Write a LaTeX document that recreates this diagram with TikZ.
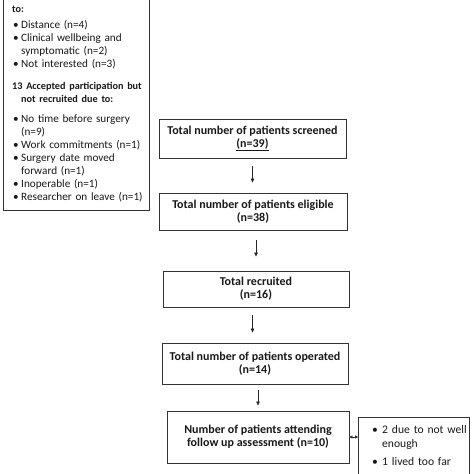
\documentclass[tikz,border=0pt]{standalone}
\usepackage{fontspec}
\setmainfont{Carlito}
\usetikzlibrary{arrows.meta,calc}
\newcommand\bitem[2][9pt]{\par\hangindent=#1\hangafter=1\noindent\makebox[#1][l]{\hspace{1pt}\textbullet}#2\par}
\begin{document}
\begin{tikzpicture}[x=1pt,y=-1pt,
  box/.style={draw=black!80,line width=0.9pt,align=center,inner sep=2pt,
    font=\fontsize{12}{13}\selectfont\bfseries,text=black!90},
  plainbox/.style={draw=black!80,line width=0.9pt,inner sep=0pt},
  listtext/.style={anchor=north west,inner sep=0pt,align=left,text=black!90,
    font=\fontsize{11.2}{13}\selectfont},
  arr/.style={-{Triangle[length=4pt,width=3.5pt]},line width=0.6pt,draw=black!85},
  darr/.style={{Triangle[length=3pt,width=3pt]}-{Triangle[length=3pt,width=3pt]},line width=0.6pt,draw=black!85}]
\useasboundingbox (0,0) rectangle (474,474);
\clip (0,0) rectangle (474,474);
\fill[white] (0,0) rectangle (474,474);

% main column
\node[box,minimum width=187pt,minimum height=39pt] (s) at (252.5,138.5)
  {Total number of patients screened\\\underline{(n=39)}};
\node[box,minimum width=188pt,minimum height=37pt] (e) at (253,211.5)
  {Total number of patients eligible\\(n=38)};
\node[box,minimum width=186pt,minimum height=36pt] (r) at (256,289)
  {Total recruited\\(n=16)};
\node[box,minimum width=186pt,minimum height=41pt] (o) at (255,363.5)
  {Total number of patients operated\\(n=14)};
\node[box,minimum width=182pt,minimum height=52pt] (f) at (258,437)
  {Number of patients attending\\follow up assessment (n=10)};

\draw[arr,shorten <=8pt,shorten >=10pt] (s.south) -- (s.south |- e.north);
\draw[arr,shorten <=10pt,shorten >=14pt] (r.north |- e.south) -- (r.north);
\draw[arr,shorten <=8pt,shorten >=10pt] (r.south -| s.south) -- (o.north -| s.south);
\draw[arr,shorten <=6pt,shorten >=5pt] (f.north |- o.south) -- (f.north);

% left box
\node[plainbox,anchor=south west,minimum width=146pt,minimum height=240pt] (L) at (3,211) {};
\node[listtext,text width=137pt] (Lt) at (12,6) {%
  {\bfseries\fontsize{10.2}{13}\selectfont to:}\par\vspace{3pt}
  \bitem{Distance (n=4)}
  \bitem{Clinical wellbeing and\newline symptomatic (n=2)}
  \bitem{Not interested (n=3)}
  \vspace{9pt}
  \hangindent=9pt\hangafter=1\noindent{\bfseries\fontsize{10.2}{13}\selectfont 13 Accepted participation but\newline not recruited due to:}\par
  \vspace{7pt}
  \bitem{No time before surgery\newline (n=9)}
  \bitem{Work commitments (n=1)}
  \bitem{Surgery date moved\newline forward (n=1)}
  \bitem{Inoperable (n=1)}
  \bitem{Researcher on leave (n=1)}};

% right box
\node[plainbox,anchor=north west,minimum width=111pt,minimum height=80pt] (R) at (358,417) {};
\node[listtext,text width=97pt,font=\fontsize{11.6}{14}\selectfont] (Rt) at (371,419) {%
  \bitem[11pt]{2 due to not well\newline enough}
  \vspace{4pt}
  \bitem[11pt]{1 lived too far}};

\draw[darr] (f.east) -- (f.east -| R.west);
\end{tikzpicture}
\end{document}
